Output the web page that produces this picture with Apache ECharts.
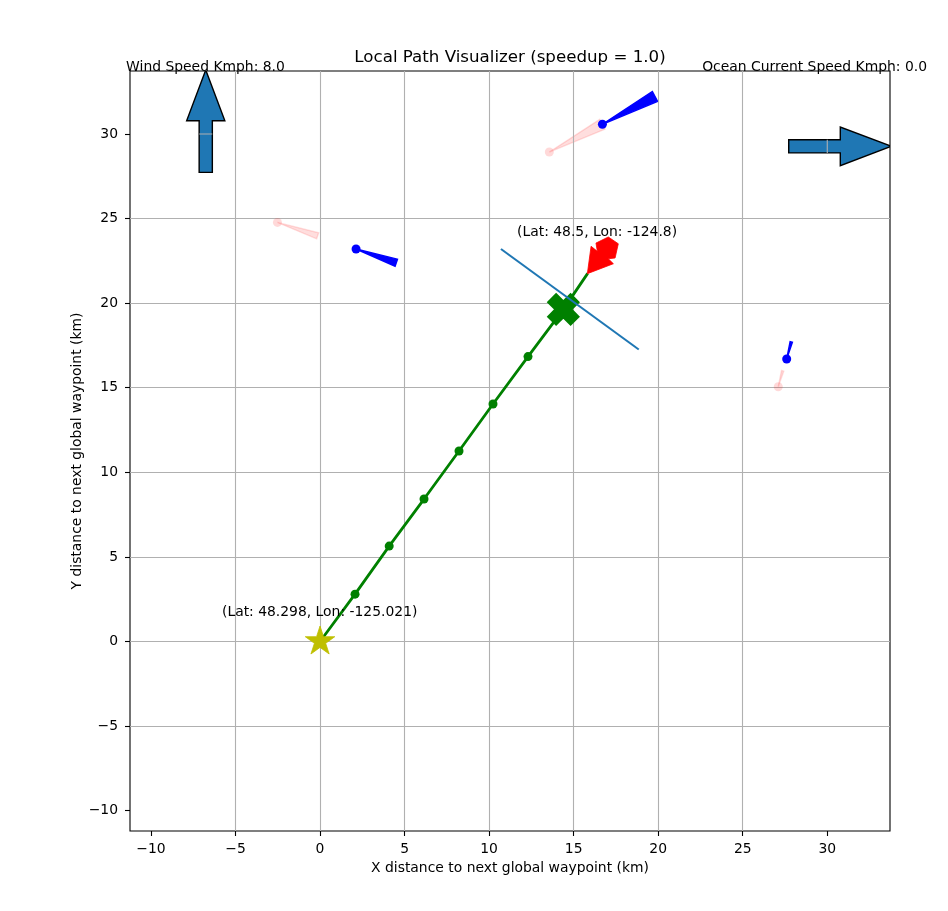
<!DOCTYPE html>
<html>
<head>
<meta charset="utf-8">
<style>html,body{margin:0;padding:0;background:#fff}#c{width:948px;height:911px}</style>
<script src="https://cdn.jsdelivr.net/npm/echarts@6/dist/echarts.min.js"></script>
</head>
<body>
<div id="c"></div>
<script>
const titleText = 'Local Path Visualizer (speedup = 1.0)';
const xName = 'X distance to next global waypoint (km)';
const yName = 'Y distance to next global waypoint (km)';
const xTicks = [-10, -5, 0, 5, 10, 15, 20, 25, 30];
const yTicks = [-10, -5, 0, 5, 10, 15, 20, 25, 30];
const xLimits = [-11.24, 33.71];
const yLimits = [-11.2, 33.72];

const pathPoints = [[0, 0], [2.07, 2.8], [4.09, 5.64], [6.15, 8.42], [8.22, 11.26], [10.23, 14.04], [12.3, 16.84], [14.39, 19.63], [15.83, 21.76]];
const waypointDots = [[2.07, 2.8], [4.09, 5.64], [6.15, 8.42], [8.22, 11.26], [10.23, 14.04], [12.3, 16.84]];
const startPoint = [[0, 0]];
const currentPoint = [[14.39, 19.63]];
const headingLine = [[10.7, 23.2], [18.85, 17.26]];
const goalShape = [[15.81, 21.74], [16.03, 23.36], [16.4, 23.06], [16.32, 23.55], [17.05, 23.91], [17.64, 23.51], [17.45, 22.67], [17.05, 22.62], [17.35, 22.33]];

// each wedge: tip x, tip y, far-end x, far-end y, far-end half width (km)
const boatsNow = [[2.13, 23.2, 4.51, 22.39, 0.22], [16.7, 30.57, 19.81, 32.22, 0.33], [27.6, 16.7, 27.87, 17.7, 0.07]];
const boatsPast = [[-2.52, 24.77, -0.14, 23.98, 0.19], [13.56, 28.93, 16.7, 30.57, 0.33], [27.1, 15.06, 27.36, 16.0, 0.07]];

const windArrow = [[-7.15, 27.73], [-6.37, 27.73], [-6.37, 30.78], [-5.63, 30.78], [-6.76, 33.78], [-7.89, 30.78], [-7.15, 30.78]];
const oceanArrow = [[27.72, 28.88], [30.77, 28.88], [30.77, 28.12], [33.8, 29.27], [30.77, 30.41], [30.77, 29.66], [27.72, 29.66]];
const gridOverWind = [[-7.15, 30], [-6.37, 30]];
const gridOverOcean = [[30, 28.88], [30, 29.66]];

const notes = [
  ['Wind Speed Kmph: 8.0', -11.47, 33.52],
  ['Ocean Current Speed Kmph: 0.0', 22.6, 33.52],
  ['(Lat: 48.5, Lon: -124.8)', 11.65, 23.75],
  ['(Lat: 48.298, Lon: -125.021)', -5.8, 1.32]
];

const FONT = '"DejaVu Sans"';
const XPATH = 'path://M-1,-2L0,-1L1,-2L2,-1L1,0L2,1L1,2L0,1L-1,2L-2,1L-1,0L-2,-1Z';
const STAR = 'path://M0,-1L0.2245,-0.309L0.951,-0.309L0.363,0.118L0.588,0.809L0,0.382L-0.588,0.809L-0.363,0.118L-0.951,-0.309L-0.2245,-0.309Z';

function polySeries(points, fill, stroke, lineWidth, z) {
  return {
    type: 'custom', coordinateSystem: 'cartesian2d', clip: true, z: z, silent: true,
    data: [0],
    encode: {x: [], y: []},
    renderItem: function (params, api) {
      return {
        type: 'polygon',
        shape: {points: points.map(p => api.coord(p))},
        style: {fill: fill, stroke: stroke, lineWidth: lineWidth, lineJoin: 'miter'}
      };
    }
  };
}
function wedgeSeries(rows, fill, z) {
  return {
    type: 'custom', coordinateSystem: 'cartesian2d', clip: true, z: z, silent: true,
    data: rows,
    dimensions: ['x0', 'y0', 'x1', 'y1', 'w'],
    encode: {x: [0, 2], y: [1, 3]},
    renderItem: function (params, api) {
      const x0 = api.value(0), y0 = api.value(1), x1 = api.value(2), y1 = api.value(3), w = api.value(4);
      const dx = x1 - x0, dy = y1 - y0, L = Math.hypot(dx, dy);
      const nx = -dy / L * w, ny = dx / L * w;
      return {
        type: 'polygon',
        shape: {points: [api.coord([x0, y0]), api.coord([x1 + nx, y1 + ny]), api.coord([x1 - nx, y1 - ny])]},
        style: {fill: fill, stroke: fill, lineWidth: 1.4, lineJoin: 'miter'}
      };
    }
  };
}
function axisOf(name, ticks, limits, gap, labelMargin, labelPad) {
  return {
    type: 'value', min: limits[0], max: limits[1], z: 1,
    name: name, nameLocation: 'middle', nameGap: gap, nameMoveOverlap: false,
    nameTextStyle: {color: '#000', fontFamily: FONT, fontSize: 13.9},
    axisLine: {show: false, onZero: false},
    axisTick: {show: true, length: 5, inside: false, customValues: ticks, lineStyle: {color: '#000', width: 1.1}},
    axisLabel: {show: true, margin: labelMargin, padding: labelPad, color: '#000', fontFamily: FONT, fontSize: 13.9, customValues: ticks,
      showMinLabel: true, showMaxLabel: true, hideOverlap: false,
      formatter: v => String(v).replace('-', '\u2212')},
    splitLine: {show: true, showMinLine: false, showMaxLine: false, lineStyle: {color: '#b0b0b0', width: 1.1}}
  };
}
function scatter(data, symbol, size, color, z, border, offset) {
  return {type: 'scatter', data: data, symbol: symbol, symbolSize: size, symbolOffset: offset || [0, 0], z: z, silent: true,
    itemStyle: {color: color, opacity: 1, borderColor: color, borderWidth: border || 0, borderJoin: 'miter'}};
}
function gridPatch(data) {
  return {type: 'line', data: data, showSymbol: false, z: 0, silent: true,
    lineStyle: {color: '#b0b0b0', width: 1.1, cap: 'butt'}};
}

const chart = echarts.init(document.getElementById('c'), null, {renderer: 'canvas'});
chart.setOption({
  animation: false,
  backgroundColor: '#fff',
  title: {text: titleText, left: 505, top: 44, textAlign: 'center',
    textStyle: {color: '#000', fontFamily: FONT, fontSize: 16.67, fontWeight: 'normal'}},
  grid: {show: true, left: 130, top: 71, width: 760, height: 760, z: 1,
    borderColor: '#000', borderWidth: 1.1, backgroundColor: 'transparent', containLabel: false},
  xAxis: axisOf(xName, xTicks, xLimits, 30, 11, [0, 0, 0, 0]),
  yAxis: axisOf(yName, yTicks, yLimits, 46, 12, [2, 0, 0, 0]),
  series: [
    polySeries(windArrow, '#1f77b4', '#000', 1.4, -1),
    polySeries(oceanArrow, '#1f77b4', '#000', 1.4, -1),
    gridPatch(gridOverWind),
    gridPatch(gridOverOcean),
    wedgeSeries(boatsPast, 'rgba(255,0,0,0.13)', -1),
    wedgeSeries(boatsNow, '#0000ff', -1),
    scatter(boatsPast.map(b => [b[0], b[1]]), 'circle', 9, 'rgba(255,0,0,0.15)', 3),
    scatter(boatsNow.map(b => [b[0], b[1]]), 'circle', 9, '#0000ff', 3),
    {type: 'line', data: pathPoints, showSymbol: false, z: 4, silent: true,
      lineStyle: {color: '#008000', width: 2.8, cap: 'butt'}},
    scatter(waypointDots, 'circle', 9, '#008000', 5),
    polySeries(goalShape, '#ff0000', '#ff0000', 0.8, 6),
    scatter(currentPoint, XPATH, 29, '#008000', 7, 3),
    scatter(startPoint, STAR, [29.5, 28], '#bfbf00', 7, 0.8, [0, -1.5]),
    {type: 'line', data: headingLine, showSymbol: false, z: 8, silent: true,
      lineStyle: {color: '#1f77b4', width: 2.1, cap: 'butt'}},
    {
      type: 'custom', coordinateSystem: 'cartesian2d', clip: false, z: 9, silent: true,
      data: notes.map(n => [n[1], n[2], n[0]]),
      encode: {x: 0, y: 1},
      renderItem: function (params, api) {
        const p = api.coord([api.value(0), api.value(1)]);
        return {
          type: 'text',
          style: {x: p[0], y: p[1], text: notes[params.dataIndex][0], fill: '#000',
            font: '13.9px ' + FONT, textAlign: 'left', textVerticalAlign: 'bottom'}
        };
      }
    }
  ]
});
</script>
</body>
</html>
